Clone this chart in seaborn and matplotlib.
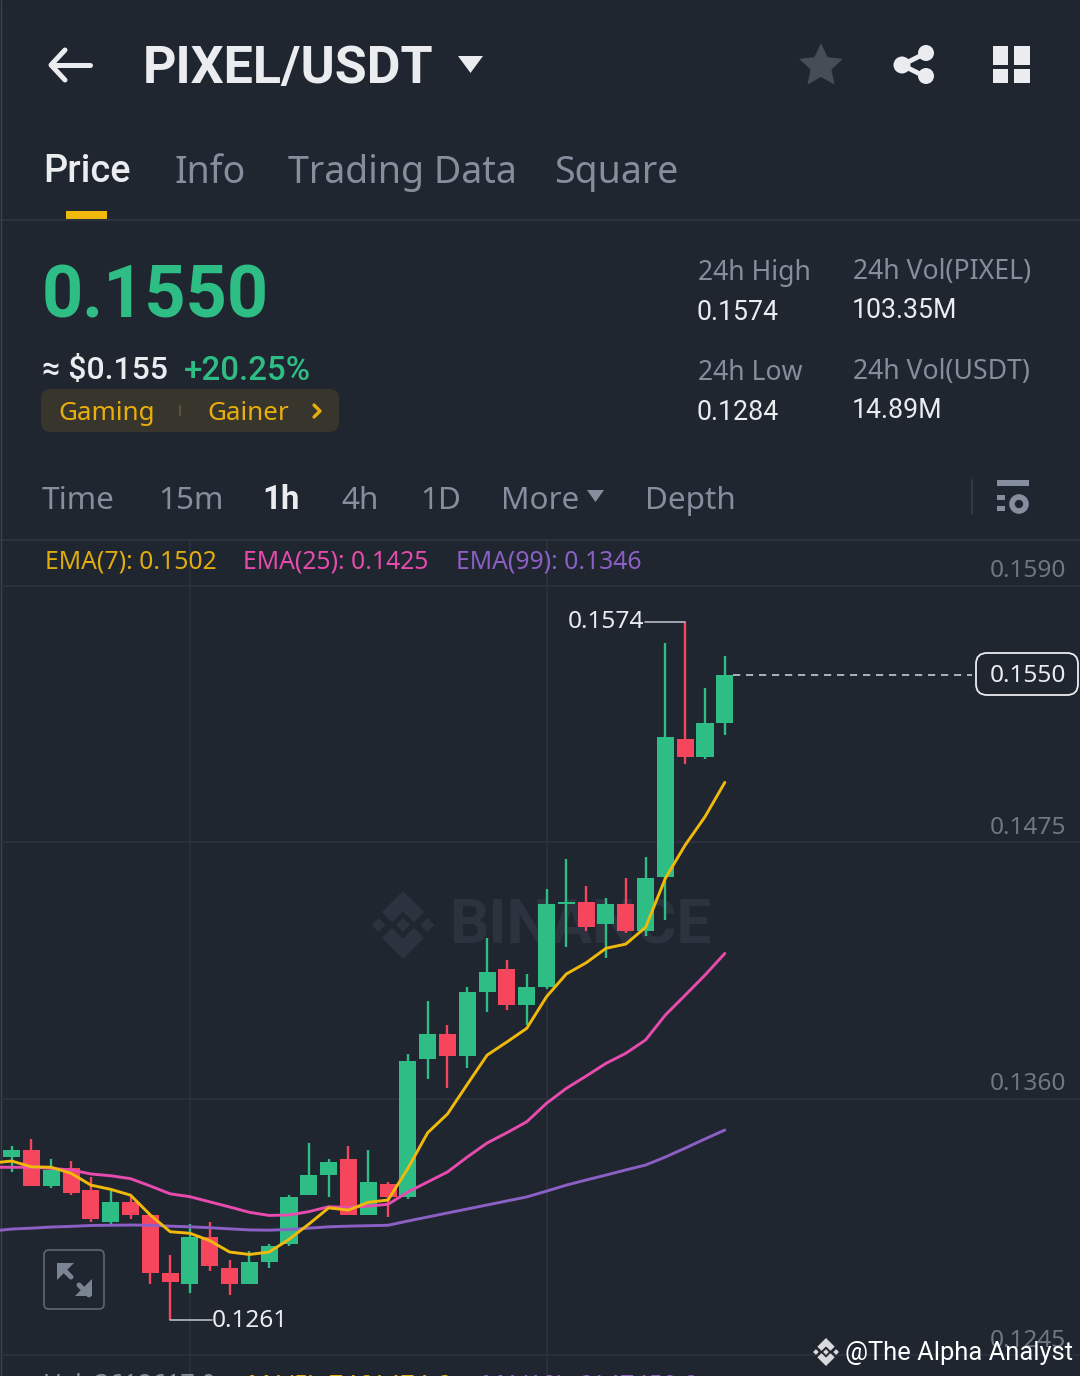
"""PIXEL/USDT 1h candle chart in the Binance app layout."""

import matplotlib
matplotlib.use('Agg')
import matplotlib.pyplot as plt
import numpy as np
import pandas as pd
import seaborn as sns
from matplotlib.patches import Circle, FancyBboxPatch, Polygon, Rectangle

# candle body edges and wicks, oldest first
highs = [.13390, .13418, .13329, .13320, .13249, .13190, .13160, .13079, .12900, .13039,
         .13049, .12878, .12919, .12949, .13169, .13401, .13329, .13390, .13369, .13228,
         .13800, .14040, .13930, .14102, .14323, .14221, .14161, .14542, .14674, .14553,
         .14502, .14592, .14683, .15646, .15740, .15444, .15585]
lows = [.13270, .13209, .13200, .13170, .13049, .13040, .13060, .12770, .12610, .12731,
        .12829, .12720, .12770, .12840, .12940, .13169, .13160, .13079, .13079, .13070,
        .13149, .13690, .13650, .13740, .13989, .14000, .13930, .14091, .14280, .14353,
        .14232, .14342, .14332, .14402, .15102, .15123, .15233]
opens = [.13339, .13369, .13209, .13288, .13190, .13049, .13139, .13079, .12820, .12770,
         .12979, .12840, .12770, .12870, .12950, .13169, .13258, .13329, .13079, .13219,
         .13160, .13780, .13889, .13791, .14080, .14181, .14021, .14102, .14472, .14483,
         .14383, .14472, .14353, .14593, .15212, .15134, .15284]
closes = [.13369, .13209, .13279, .13179, .13060, .13139, .13079, .12820, .12780, .12979,
          .12850, .12770, .12870, .12940, .13160, .13258, .13318, .13079, .13228, .13160,
          .13770, .13889, .13791, .14080, .14170, .14021, .14102, .14472, .14483, .14372,
          .14472, .14353, .14592, .15223, .15134, .15284, .15500]

# moving averages, they start one candle before the first visible body
ema7 = [.13312, .13321, .13295, .13293, .13266, .13213, .13194, .13168, .13079, .13004,
        .12997, .12964, .12913, .12902, .12913, .12970, .13038, .13111, .13101, .13136,
        .13146, .13288, .13448, .13532, .13665, .13796, .13855, .13916, .14058, .14160,
        .14210, .14275, .14294, .14369, .14589, .14738, .14865, .15019]
ema25 = [.13293, .13293, .13293, .13288, .13281, .13263, .13255, .13242, .13209, .13174,
         .13161, .13138, .13115, .13091, .13077, .13079, .13094, .13116, .13113, .13119,
         .13127, .13182, .13227, .13272, .13339, .13402, .13448, .13497, .13580, .13647,
         .13702, .13759, .13804, .13864, .13976, .14065, .14155, .14252]
ema99 = [.13007, .13016, .13020, .13025, .13028, .13032, .13033, .13034, .13033, .13029,
         .13026, .13022, .13017, .13012, .13011, .13014, .13020, .13026, .13029, .13031,
         .13033, .13052, .13070, .13088, .13106, .13124, .13142, .13160, .13186, .13213,
         .13236, .13258, .13281, .13303, .13339, .13379, .13420, .13460]

price_ticks = [0.1590, 0.1475, 0.1360, 0.1245]
grid_candles = [9, 27]
last_price = 0.1550
high_price = 0.1574
high_candle = 34
low_price = 0.1261
low_candle = 8

tabs = [('Price', 44, True), ('Info', 174, False), ('Trading Data', 288, False), ('Square', 554, False)]
intervals = [('Time', 42, False), ('15m', 158, False), ('1h', 264, True), ('4h', 341, False),
             ('1D', 420, False), ('More', 501, False), ('Depth', 645, False)]
stats = [('24h High', '0.1574', 698, 271), ('24h Vol(PIXEL)', '103.35M', 853, 270),
         ('24h Low', '0.1284', 698, 371), ('24h Vol(USDT)', '14.89M', 853, 370)]
ema_labels = [('EMA(7): 0.1502', 45), ('EMA(25): 0.1425', 243), ('EMA(99): 0.1346', 456)]
volume_labels = [('Vol: 3618617.0', 45, '#848e9c'), ('MA(5): 7461474.6', 248, '#e0ac10'),
                 ('MA(10): 6147459.0', 482, '#8c5fc0')]

BG = '#1f2630'
GRID = '#2d333e'
MUTED = '#848e9c'
WHITE = '#eaecef'
GREEN = '#2ebd85'
RED = '#f6465d'
YELLOW = '#f0b90b'
PINK = '#e64bad'
PURPLE = '#8c5fc4'

sns.set_theme(style='dark', rc={'axes.facecolor': 'none', 'figure.facecolor': BG})
plt.rcParams['font.family'] = ['Noto Sans', 'DejaVu Sans']

fig = plt.figure(figsize=(10.8, 13.76), dpi=100)

# ui layer works in screen pixels, chart layer in candle index / price
ui = fig.add_axes([0, 0, 1, 1], zorder=0)
ui.set_xlim(0, 1080)
ui.set_ylim(1376, 0)
ui.axis('off')
ax = fig.add_axes([0, 0, 1, 836 / 1376], zorder=1)


def label(x, y, s, px, color=WHITE, weight='normal', family=None, ha='left', target=ui):
    """Text sized in pixels, placed in screen coordinates."""
    return target.text(x, y, s, fontsize=px * 0.72, color=color, weight=weight, ha=ha, va='center',
                       family=family or ['Noto Sans', 'DejaVu Sans'], transform=ui.transData)


def binance_logo(cx, cy, r, color, target=ui, z=1):
    """The diamond mark, built from small rhombi."""
    s = r * 0.34
    for dx, dy in [(0, 0), (-r * 0.72, 0), (r * 0.72, 0)]:
        target.add_patch(Polygon([(cx + dx, cy + dy - s * 0.6), (cx + dx + s * 0.6, cy + dy),
                                  (cx + dx, cy + dy + s * 0.6), (cx + dx - s * 0.6, cy + dy)],
                                 color=color, lw=0, transform=ui.transData, zorder=z))
    t = r * 0.3
    for sign in (-1, 1):
        pts = [(cx, cy + sign * r), (cx + r * 0.62, cy + sign * r * 0.38), (cx + r * 0.62 - t, cy + sign * (r * 0.38 - t)),
               (cx, cy + sign * (r - 2 * t) ), (cx - r * 0.62 + t, cy + sign * (r * 0.38 - t)), (cx - r * 0.62, cy + sign * r * 0.38)]
        target.add_patch(Polygon(pts, color=color, lw=0, transform=ui.transData, zorder=z))


# header row
ui.plot([52, 90], [65, 65], color=WHITE, lw=3.6, solid_capstyle='round')
ui.plot([65, 51, 65], [50, 65, 80], color=WHITE, lw=3.6, solid_capstyle='round', solid_joinstyle='round')
label(143, 69, 'PIXEL/USDT', 52, weight='bold', family='Roboto')
ui.add_patch(Polygon([(458, 56), (483, 56), (470.5, 73)], color=WHITE, lw=0))
star_a = np.linspace(-np.pi / 2, 1.5 * np.pi, 11)[:-1]
star_r = np.where(np.arange(10) % 2 == 0, 23, 11)
ui.add_patch(Polygon(np.c_[821 + star_r * np.cos(star_a), 66 + star_r * np.sin(star_a)], color='#474d57', lw=0))
ui.plot([926, 902, 926], [53, 65, 77], color=WHITE, lw=3.5)
for cx, cy, r in [(926, 53, 8), (902, 65, 8.5), (926, 76, 8)]:
    ui.add_patch(Circle((cx, cy), r, color=WHITE, lw=0))
for x0, w, y0, h in [(993, 15, 46, 19), (1014, 16, 46, 19), (993, 15, 69, 14), (1014, 16, 69, 14)]:
    ui.add_patch(Rectangle((x0, y0), w, h, color=WHITE, lw=0))

# tabs
for name, x, active in tabs:
    if active:
        label(x - 1, 172, name, 38, color=WHITE, weight='medium', family='Roboto')
    else:
        label(x, 173, name, 37.5, color=MUTED)
ui.add_patch(Rectangle((66, 211), 41, 8, color=YELLOW, lw=0))
ui.plot([0, 1080], [219.5, 219.5], color=GRID, lw=1.5)

# price block
label(42, 298, '0.1550', 72, color=GREEN, weight='bold', family='Roboto')
label(42, 371, '≈ $0.155', 32, weight='medium', family='Roboto')
label(184, 371, '+20.25%', 33, color=GREEN, weight='medium', family='Roboto')
ui.add_patch(FancyBboxPatch((47, 395), 286, 31, boxstyle='round,pad=6,rounding_size=10', color='#38352c', lw=0))
label(58, 413, 'Gaming', 26, color='#e8ae0d')
label(207, 413, 'Gainer', 26, color='#e8ae0d')
ui.plot([180, 180], [406, 415], color='#5a5440', lw=1.4)
ui.plot([314, 320, 314], [405, 411, 417], color='#e8ae0d', lw=2.4)
for title, value, x, y in stats:
    label(x, y + 2, title, 26.6, color=MUTED)
    label(x - 1, y + 41, value, 26.8, color=WHITE, family='Roboto')

# interval row
for name, x, active in intervals:
    if active:
        label(x - 2, 500, name, 33, color=WHITE, weight='bold', family='Roboto')
    else:
        label(x, 501, name, 31.5, color=MUTED)
ui.add_patch(Polygon([(587, 490), (604, 490), (595.5, 502)], color=MUTED, lw=0))
ui.plot([972, 972], [480, 514], color='#333a45', lw=1.4)
ui.add_patch(Rectangle((997, 480), 32, 6, color=MUTED, lw=0))
ui.add_patch(Rectangle((997, 495), 8, 5, color=MUTED, lw=0))
ui.add_patch(Rectangle((997, 506), 8, 5, color=MUTED, lw=0))
ui.add_patch(Circle((1019, 504), 7, fill=False, ec=MUTED, lw=4))
ui.plot([0, 1080], [539.5, 539.5], color=GRID, lw=1.5)
ui.plot([0.5, 0.5], [0, 1376], color='#3c424c', lw=1)

# watermark sits under the candles
binance_logo(403, 925, 34, '#2d333e')
label(449, 927, 'BINANCE', 62, color='#2d333e', weight='bold', family='Roboto')

# chart
ax.set_xlim(-0.59, 53.93)
ax.set_ylim(0.12357, 0.16106)
ax.set_xticks(grid_candles)
ax.set_yticks(price_ticks)
ax.set_xticklabels([])
ax.set_yticklabels([])
ax.set_xlabel('')
ax.grid(True, color=GRID, lw=1.2)
ax.tick_params(length=0)
sns.despine(ax=ax, left=True, bottom=True, right=True, top=True)

candles = pd.DataFrame({'high': highs, 'low': lows, 'open': opens, 'close': closes})
candles['i'] = np.arange(len(candles))
candles['color'] = np.where(candles['close'] >= candles['open'], GREEN, RED)
ax.vlines(candles['i'], candles['low'], candles['high'], colors=candles['color'], lw=1.7, zorder=2)
ax.bar(candles['i'], (candles['close'] - candles['open']).abs(), bottom=candles[['open', 'close']].min(axis=1),
       width=0.86, color=candles['color'], lw=0, zorder=3)

emas = pd.DataFrame({'i': np.arange(-1, len(candles)), 'EMA7': ema7, 'EMA25': ema25, 'EMA99': ema99})
emas = emas.melt(id_vars='i', var_name='line', value_name='price')
sns.lineplot(data=emas, x='i', y='price', hue='line', hue_order=['EMA99', 'EMA25', 'EMA7'],
             palette={'EMA7': YELLOW, 'EMA25': PINK, 'EMA99': PURPLE}, lw=2.1, legend=False,
             estimator=None, ax=ax, zorder=4)
ax.set_xlabel('')
ax.set_ylabel('')

for name, x in ema_labels:
    color = {'EMA(7)': '#e0ac10', 'EMA(25)': '#e64bad', 'EMA(99)': '#8c5fc4'}[name.split(':')[0]]
    label(x, 562, name, 24.7, color=color, target=ax)

for tick in price_ticks:
    ax.annotate(f'{tick:.4f}', xy=(1, tick), xycoords=('axes fraction', 'data'), xytext=(-10, 10.4),
                textcoords='offset points', ha='right', va='center', fontsize=17.6, color='#6f7783')

# high, low and last price callouts
ax.plot([high_candle - 2.03, high_candle], [high_price, high_price], color='#b7bdc6', lw=1.2, zorder=2)
ax.text(high_candle - 2.05, high_price, f'{high_price:.4f}', ha='right', va='center', fontsize=17.6, color=WHITE)
ax.plot([low_candle, low_candle + 2.1], [low_price, low_price], color='#b7bdc6', lw=1.2, zorder=2)
ax.annotate(f'{low_price:.4f}', xy=(low_candle + 2.12, low_price), xytext=(0, -1.2), textcoords='offset points',
            ha='left', va='center', fontsize=17.6, color=WHITE)
ax.hlines(last_price, 36.43, 48.5, color='#b7bdc6', lw=1.3, linestyles=(0, (4, 3.2)), zorder=2)
ui_box = FancyBboxPatch((982, 659), 90, 30, boxstyle='round,pad=6,rounding_size=11', fc=BG, ec=WHITE, lw=1.3,
                        transform=ui.transData, zorder=5)
ax.add_patch(ui_box)
ax.text(1028, 676, f'{last_price:.4f}', ha='center', va='center', fontsize=17.6, color=WHITE,
        transform=ui.transData, zorder=6)

# expand button
ax.add_patch(FancyBboxPatch((49, 1255), 50, 49, boxstyle='round,pad=5,rounding_size=5', fc='none', ec='#5e6673', lw=1.2,
                            transform=ui.transData, zorder=5))
ax.plot([61, 71], [1267, 1277], color='#7b8491', lw=3.6, transform=ui.transData, zorder=5)
ax.plot([79, 89], [1285, 1295], color='#7b8491', lw=3.6, transform=ui.transData, zorder=5)
ax.add_patch(Polygon([(57, 1263), (74, 1263), (57, 1280)], color='#7b8491', lw=0, transform=ui.transData, zorder=5))
ax.add_patch(Polygon([(92, 1296), (75, 1296), (92, 1279)], color='#7b8491', lw=0, transform=ui.transData, zorder=5))

# volume row is cut by the bottom edge of the screenshot
for name, x, color in volume_labels:
    label(x, 1386, name, 25, color=color, target=ax)

# author stamp
binance_logo(826, 1352, 14, '#d8dade', target=ax, z=7)
label(845, 1353, '@The Alpha Analyst', 25.5, color='#ffffff', family='Roboto', target=ax)

fig.savefig('out.png', dpi=100, facecolor=BG)
